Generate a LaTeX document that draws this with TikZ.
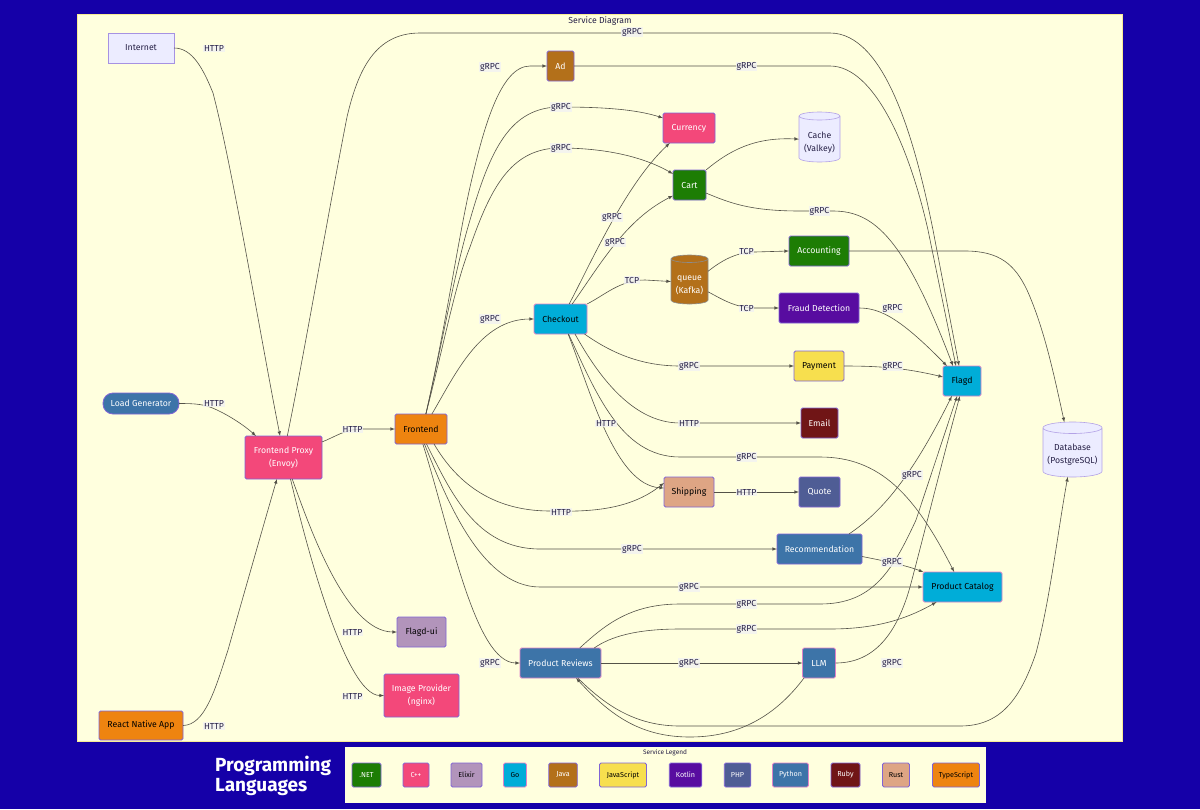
\documentclass[tikz,border=0pt]{standalone}
\usepackage{fontspec}
\setmainfont{Fira Sans}
\usetikzlibrary{shapes.geometric}
\definecolor{page}{RGB}{21, 0, 168}
\definecolor{panel}{RGB}{255, 255, 222}
\definecolor{panelline}{RGB}{247, 236, 150}
\definecolor{wire}{RGB}{84, 82, 72}
\definecolor{ink}{RGB}{38, 32, 70}
\definecolor{plain}{RGB}{236, 236, 255}
\definecolor{purpleline}{RGB}{128, 100, 214}
\definecolor{pinkline}{RGB}{222, 130, 200}
\definecolor{dotnetfill}{RGB}{29, 125, 4}
\definecolor{cppfill}{RGB}{243, 72, 122}
\definecolor{elixirfill}{RGB}{178, 148, 187}
\definecolor{gofill}{RGB}{0, 173, 216}
\definecolor{javafill}{RGB}{179, 112, 26}
\definecolor{jsfill}{RGB}{247, 223, 78}
\definecolor{kotlinfill}{RGB}{88, 12, 160}
\definecolor{phpfill}{RGB}{79, 93, 149}
\definecolor{pythonfill}{RGB}{61, 116, 168}
\definecolor{rubyfill}{RGB}{112, 21, 22}
\definecolor{rustfill}{RGB}{222, 165, 132}
\definecolor{tsfill}{RGB}{238, 132, 16}

\newcommand{\nodefont}{\fontsize{8.7}{13}\selectfont}
\newcommand{\storebody}[1]{\rule{#1pt}{0pt}}
\tikzset{
    box/.style={rectangle, rounded corners=1.5, inner sep=0, outer sep=0, align=center, line width=.8, font=\nodefont},
    dotnet/.style={box, fill=dotnetfill, draw=purpleline, text=white},
    cpp/.style={box, fill=cppfill, draw=purpleline, text=white},
    elixir/.style={box, fill=elixirfill, draw=purpleline, text=black},
    golang/.style={box, fill=gofill, draw=pinkline, text=black},
    java/.style={box, fill=javafill, draw=purpleline, text=white},
    jscript/.style={box, fill=jsfill, draw=purpleline, text=black},
    kotlin/.style={box, fill=kotlinfill, draw=purpleline, text=white},
    php/.style={box, fill=phpfill, draw=purpleline, text=white},
    python/.style={box, fill=pythonfill, draw=pinkline, text=white},
    ruby/.style={box, fill=rubyfill, draw=purpleline, text=white},
    rust/.style={box, fill=rustfill, draw=purpleline, text=black},
    tscript/.style={box, fill=tsfill, draw=purpleline, text=black},
    client/.style={box, rounded corners=0, fill=plain, draw=purpleline!70, text=ink},
    store/.style={cylinder, shape border rotate=90, aspect=.25, inner sep=0, outer sep=0, anchor=shape center, line width=.6},
    storetext/.style={inner sep=0, align=center, font=\nodefont},
    flow/.style={-latex, wire, line width=.6},
    edgelabel/.style={fill=black!5, fill opacity=.8, text opacity=1, text=ink, inner sep=.8, font=\nodefont},
}

\begin{document}
\begin{tikzpicture}[x=1pt, y=-1pt]
\useasboundingbox (0,0) rectangle (1200,809);
\fill[page] (0,0) rectangle (1200,809);
\node[fill=panel, draw=panelline, line width=.8, minimum width=1045, minimum height=727, inner sep=0] (diagram) at (600,377.5) {};
\node[text=ink, font=\nodefont] (diagramtitle) at (600,21.5) {Service Diagram};

% Clients
\node[client, minimum width=66, minimum height=30] (internet) at (141,48) {Internet};
\node[python, rounded corners=10, draw=purpleline, minimum width=76, minimum height=21] (loadgen) at (141,403.5) {Load Generator};
\node[tscript, minimum width=84, minimum height=29] (reactapp) at (141,725.5) {React Native App};

% Services
\node[cpp, minimum width=77, minimum height=43] (proxy) at (283.5,457.5) {Frontend Proxy\\(Envoy)};
\node[tscript, minimum width=52, minimum height=30] (frontend) at (421,429) {Frontend};
\node[elixir, minimum width=49, minimum height=30] (flagdui) at (421.5,632) {Flagd-ui};
\node[cpp, minimum width=75, minimum height=43] (imageprov) at (421.5,695.5) {Image Provider\\(nginx)};
\node[java, minimum width=27, minimum height=30] (ad) at (560.5,66) {Ad};
\node[cpp, minimum width=52, minimum height=30] (currency) at (689,128) {Currency};
\node[dotnet, minimum width=33, minimum height=30] (cart) at (689.5,185) {Cart};
\node[golang, minimum width=53, minimum height=30] (checkout) at (560.5,319) {Checkout};
\node[dotnet, minimum width=60, minimum height=30] (accounting) at (819,251) {Accounting};
\node[kotlin, minimum width=80, minimum height=30] (fraud) at (819,308) {Fraud Detection};
\node[jscript, minimum width=50, minimum height=30] (payment) at (819,366) {Payment};
\node[ruby, minimum width=37, minimum height=30] (email) at (819.5,423) {Email};
\node[rust, minimum width=50, minimum height=30] (shipping) at (689,492) {Shipping};
\node[php, minimum width=41, minimum height=30] (quote) at (819.5,492) {Quote};
\node[golang, minimum width=38, minimum height=30] (flagd) at (962,381) {Flagd};
\node[python, draw=purpleline, minimum width=85, minimum height=30] (recommend) at (819.5,549) {Recommendation};
\node[golang, minimum width=79, minimum height=30] (catalog) at (962.5,587) {Product Catalog};
\node[python, minimum width=81, minimum height=30] (reviews) at (560.5,663) {Product Reviews};
\node[python, minimum width=33, minimum height=30] (llm) at (819,663) {LLM};

% Stores
\node[store, fill=plain, draw=purpleline!60, minimum width=41, minimum height=50] (cache) at (819.5,137) {\storebody{32}};
\node[store, fill=javafill, draw=black!45, minimum width=37, minimum height=49] (queue) at (689.5,279.5) {\storebody{30}};
\node[store, fill=plain, draw=purpleline!60, minimum width=59, minimum height=55] (database) at (1072.5,449.5) {\storebody{46}};
\node[storetext, text=ink] (cachetext) at (819.5,142.5) {Cache\\(Valkey)};
\node[storetext, text=white] (queuetext) at (689.5,285.5) {queue\\(Kafka)};
\node[storetext, text=ink] (databasetext) at (1072.5,454.5) {Database\\(PostgreSQL)};

% Clients to proxy
\draw[flow] (internet.east) .. controls (192,48) and (203,68) .. (213,93) .. controls (232,165) and (262,345) .. (proxy.99);
\draw[flow] (loadgen.east) .. controls (195,403.5) and (205,404) .. (217,410) .. controls (230,416) and (245,426) .. (proxy.142);
\draw[flow] (reactapp.east) .. controls (205,725) and (215,690) .. (228,650) .. controls (245,590) and (265,520) .. (proxy.253);

% Proxy
\draw[flow] (proxy.80) .. controls (305,350) and (325,230) .. (347,117) .. controls (358,70) and (375,33) .. (420,33) -- (830,33) .. controls (885,33) and (915,140) .. (933,230) -- (flagd.101);
\draw[flow] (proxy.22) .. controls (335,437) and (345,429) .. (362,429) -- (frontend.west);
\draw[flow] (proxy.-68) .. controls (308,522) and (345,632) .. (flagdui.west);
\draw[flow] (proxy.-72) .. controls (305,540) and (345,695.5) .. (imageprov.west);

% Frontend
\draw[flow] (frontend.72) .. controls (445,330) and (458,240) .. (470,187) .. controls (483,130) and (500,66) .. (530,66) -- (ad.west);
\draw[flow] (frontend.72) .. controls (445,330) and (455,270) .. (470,220) .. controls (490,150) and (510,107) .. (560,107) .. controls (600,107) and (635,109) .. (currency.159);
\draw[flow] (frontend.72) .. controls (445,340) and (455,285) .. (470,247) .. controls (490,190) and (510,148) .. (560,148) .. controls (600,148) and (640,155) .. (cart.146);
\draw[flow] (frontend.54) .. controls (455,375) and (480,319) .. (checkout.west);
\draw[flow] (frontend.-49) .. controls (455,480) and (490,511) .. (550,511) .. controls (590,512) and (630,510) .. (shipping.160);
\draw[flow] (frontend.-70) .. controls (450,490) and (475,549) .. (540,549) -- (recommend.west);
\draw[flow] (frontend.-77) .. controls (445,495) and (480,587) .. (540,587) -- (catalog.west);
\draw[flow] (frontend.-83) .. controls (450,530) and (475,663) .. (reviews.west);

% Ad and cart
\draw[flow] (ad.east) -- (830,66) .. controls (875,66) and (910,150) .. (928,230) -- (flagd.112);
\draw[flow] (cart.north east) .. controls (730,150) and (755,137) .. (cache.180);
\draw[flow] (cart.-26) .. controls (730,203) and (750,211) .. (800,211) -- (833,211) .. controls (875,211) and (905,240) .. (flagd.121);

% Checkout
\draw[flow] (checkout.60) .. controls (590,265) and (625,185) .. (currency.218);
\draw[flow] (checkout.52) .. controls (600,265) and (625,220) .. (cart.213);
\draw[flow] (checkout.north east) .. controls (605,295) and (620,280) .. (645,280) -- (queue.180);
\draw[flow] (checkout.-32) .. controls (610,352) and (640,366) .. (680,366) -- (payment.west);
\draw[flow] (checkout.-46) .. controls (595,370) and (630,423) .. (680,423) -- (email.west);
\draw[flow] (checkout.-62) .. controls (595,390) and (620,457) .. (680,457) -- (820,457) .. controls (880,457) and (915,495) .. (catalog.119);
\draw[flow] (checkout.-63) .. controls (590,390) and (615,485) .. (shipping.171);

% Queue
\draw[flow] (queue.29) .. controls (720,262) and (735,252) .. (755,252) -- (accounting.west);
\draw[flow] (queue.-29) .. controls (720,298) and (735,308) .. (755,308) -- (fraud.west);
\draw[flow] (accounting.east) -- (965,251) .. controls (1000,251) and (1015,265) .. (1027,290) .. controls (1045,330) and (1055,380) .. (database.105);
\draw[flow] (fraud.east) .. controls (880,308) and (900,318) .. (flagd.135);

% Others into flagd and catalog
\draw[flow] (payment.east) .. controls (880,366) and (905,368) .. (flagd.168);
\draw[flow] (shipping.east) -- (quote.west);
\draw[flow] (recommend.27) .. controls (885,510) and (915,470) .. (flagd.236);
\draw[flow] (recommend.-10) .. controls (880,560) and (905,565) .. (catalog.159);

% Reviews and LLM
\draw[flow] (reviews.38) .. controls (605,625) and (630,604) .. (680,604) -- (820,604) .. controls (872,604) and (892,572) .. (916,520) -- (flagd.252);
\draw[flow] (reviews.24) .. controls (610,637) and (635,629) .. (680,629) -- (830,629) .. controls (880,629) and (910,617) .. (catalog.210);
\draw[flow] (reviews.east) -- (llm.west);
\draw[flow] (reviews.-41) .. controls (605,705) and (635,726) .. (680,726) -- (960,726) .. controls (1000,726) and (1020,700) .. (1036,653) .. controls (1050,600) and (1058,530) .. (database.259);
\draw[flow] (llm.east) .. controls (870,663) and (895,640) .. (910,587) .. controls (920,550) and (945,450) .. (flagd.262);
\draw[flow] (llm.-135) .. controls (780,710) and (745,737) .. (690,737) .. controls (640,737) and (610,715) .. (reviews.-44);

% Edge labels
\foreach \t/\x/\y [count=\i] in {HTTP/214/48.5, HTTP/214/403.5, HTTP/214/726, HTTP/352.5/429.5, HTTP/352.5/632.5, HTTP/352.5/696.5, HTTP/606/423.5, HTTP/689/423.5, HTTP/561/512, HTTP/746.5/492.5,
    gRPC/632/32, gRPC/490/67, gRPC/746.5/66.5, gRPC/561/107, gRPC/561/148, gRPC/612/217.5, gRPC/615/242.5, gRPC/819.5/211, gRPC/490/319, gRPC/689/366, gRPC/892.5/308.5, gRPC/892.5/366, gRPC/746.5/457, gRPC/912/475, gRPC/632/549, gRPC/689/587, gRPC/746.5/604, gRPC/746.5/629, gRPC/892/562, gRPC/689/663, gRPC/892/663, gRPC/490/663,
    TCP/632/280, TCP/746.5/251.5, TCP/746.5/308.5}{
    \node[edgelabel] (edge\i) at (\x,\y) {\t};
}

% Legend
\node[fill=panel, minimum width=641, minimum height=56, inner sep=0] (legend) at (665.5,775) {};
\node[text=ink, font=\fontsize{6.5}{8}\selectfont] (legendtitle) at (665,752.5) {Service Legend};
\foreach \s/\t/\x/\w in {dotnet/.NET/366.5/29, cpp/C++/416/26, elixir/Elixir/466.5/31, golang/Go/515/23, java/Java/563/28.5, jscript/JavaScript/623/47, kotlin/Kotlin/685.5/32.5, php/PHP/737.5/26.5, python/Python/790.5/36, ruby/Ruby/845.5/29, rust/Rust/896/27, tscript/TypeScript/956/47}{
    \node[\s, font=\fontsize{7.2}{8}\selectfont, minimum width=\w, minimum height=24] (lang\s) at (\x,775) {\t};
}
\node[anchor=west, align=left, text=white, inner sep=0, font=\fontsize{19}{20.5}\selectfont\bfseries] (langtitle) at (215,776) {Programming\\Languages};
\end{tikzpicture}
\end{document}
